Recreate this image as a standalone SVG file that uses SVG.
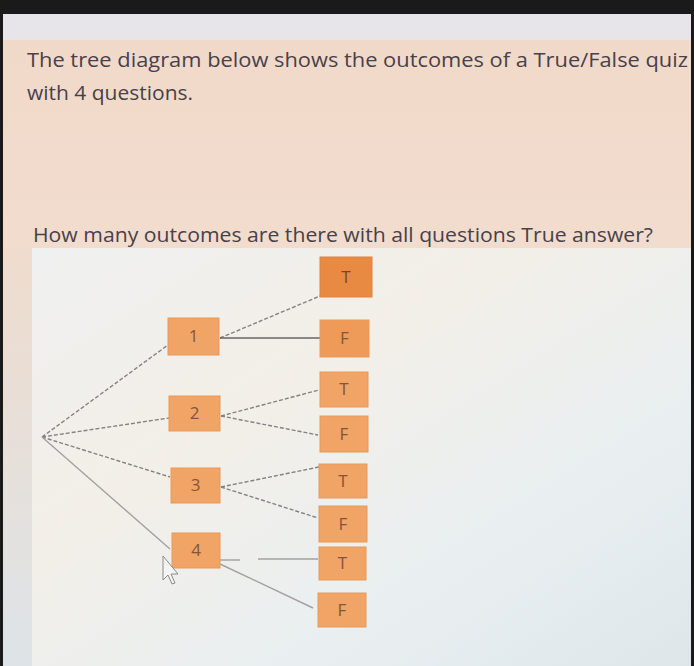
<svg xmlns="http://www.w3.org/2000/svg" width="694" height="666" viewBox="0 0 694 666">
<defs>
<linearGradient id="diag" x1="0" y1="0" x2="1" y2="1">
<stop offset="0" stop-color="#eff0f0"/>
<stop offset="0.35" stop-color="#f3efe8"/>
<stop offset="0.7" stop-color="#e9eff1"/>
<stop offset="1" stop-color="#dfe6ea"/>
</linearGradient>
<linearGradient id="peach" x1="0" y1="0" x2="0" y2="1">
<stop offset="0" stop-color="#f1d9c9"/>
<stop offset="1" stop-color="#f4e2d4"/>
</linearGradient>
<linearGradient id="left" x1="0" y1="0" x2="0" y2="1">
<stop offset="0" stop-color="#efdccd"/>
<stop offset="1" stop-color="#dde3e7"/>
</linearGradient>
<style>
.q{font-family:"Open Sans","Liberation Sans",sans-serif;font-size:20.5px;fill:#47414b}
.box{fill:#f0a466;stroke:#e9995a;stroke-width:1}
.lbl{font-family:"Open Sans","Liberation Sans",sans-serif;font-size:17px;fill:#85553a;text-anchor:middle}
.dash{stroke:#858282;stroke-width:1.4;stroke-dasharray:4 2;fill:none}
.solid{stroke:#6a6565;stroke-width:1.4;fill:none}
.faint{stroke:#a3a1a1;stroke-width:1.4;fill:none}
</style>
</defs>
<rect x="0" y="0" width="694" height="666" fill="#1a1a1a"/>
<rect x="3" y="14" width="688" height="652" fill="url(#peach)"/>
<rect x="3" y="14" width="688" height="26" fill="#e7e4ea"/>
<rect x="3" y="248" width="29" height="418" fill="url(#left)"/>
<rect x="32" y="248" width="659" height="418" fill="url(#diag)"/>

<g id="question">
<text class="q" x="27" y="67" textLength="661" lengthAdjust="spacingAndGlyphs">The tree diagram below shows the outcomes of a True/False quiz</text>
<text class="q" x="27" y="100" textLength="166" lengthAdjust="spacingAndGlyphs">with 4 questions.</text>
<text class="q" x="33" y="242" textLength="620" lengthAdjust="spacingAndGlyphs">How many outcomes are there with all questions True answer?</text>
</g>

<g id="connectors">
<line class="dash" x1="42" y1="437" x2="168" y2="345"/>
<line class="dash" x1="42" y1="437" x2="169" y2="418"/>
<line class="dash" x1="42" y1="437" x2="170" y2="477"/>
<line class="faint" x1="42" y1="437" x2="170" y2="549"/>
<line class="dash" x1="220" y1="338" x2="320" y2="296"/>
<line class="solid" x1="220" y1="338" x2="320" y2="338"/>
<line class="dash" x1="221" y1="416" x2="319" y2="390"/>
<line class="dash" x1="221" y1="416" x2="318" y2="435"/>
<line class="dash" x1="221" y1="487" x2="319" y2="467"/>
<line class="dash" x1="221" y1="487" x2="318" y2="518"/>
<line class="faint" x1="218" y1="560" x2="240" y2="560"/>
<line class="faint" x1="258" y1="559" x2="318" y2="559"/>
<line class="faint" x1="220" y1="564" x2="313" y2="608"/>
</g>

<g id="n1"><rect class="box" x="168" y="318" width="51" height="37"/><text class="lbl" x="193.5" y="342">1</text></g>
<g id="n2"><rect class="box" x="169" y="396" width="51" height="35"/><text class="lbl" x="194.5" y="419">2</text></g>
<g id="n3"><rect class="box" x="171" y="468" width="49" height="35"/><text class="lbl" x="195.5" y="491">3</text></g>
<g id="n4"><rect class="box" x="172" y="533" width="48" height="35"/><text class="lbl" x="196" y="556">4</text></g>

<g id="t1"><rect x="320" y="257" width="52" height="40" fill="#e98a43" stroke="#e08040"/><text class="lbl" x="346" y="283" style="fill:#76462c">T</text></g>
<g id="f1"><rect class="box" x="320" y="320" width="49" height="37" style="fill:#ee9a58"/><text class="lbl" x="344.5" y="344">F</text></g>
<g id="t2"><rect class="box" x="320" y="372" width="48" height="35"/><text class="lbl" x="344" y="395">T</text></g>
<g id="f2"><rect class="box" x="320" y="416" width="48" height="36"/><text class="lbl" x="344" y="440">F</text></g>
<g id="t3"><rect class="box" x="319" y="464" width="48" height="34"/><text class="lbl" x="343" y="487">T</text></g>
<g id="f3"><rect class="box" x="319" y="506" width="48" height="36"/><text class="lbl" x="343" y="530">F</text></g>
<g id="t4"><rect class="box" x="319" y="547" width="47" height="33"/><text class="lbl" x="342.5" y="569">T</text></g>
<g id="f4"><rect class="box" x="318" y="593" width="48" height="34"/><text class="lbl" x="342" y="616">F</text></g>

<g id="cursor">
<path d="M163,556 L163,580 L168,575 L172,584 L175,583 L171,574 L178,574 Z" fill="#f4f4f4" stroke="#8a8a8a" stroke-width="1"/>
</g>
</svg>
